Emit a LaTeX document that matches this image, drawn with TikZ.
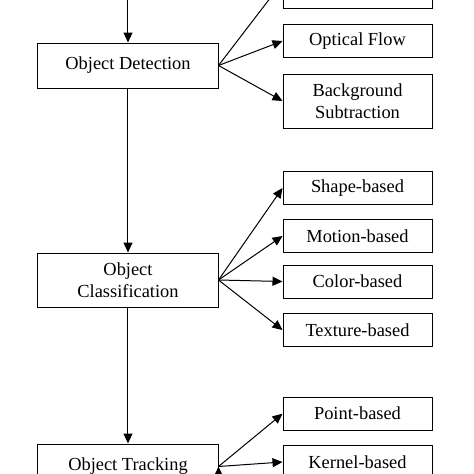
\documentclass[tikz,border=0pt]{standalone}
\usepackage{fontspec}
\setmainfont{Liberation Serif}
\usetikzlibrary{arrows.meta,positioning}
\tikzset{>/.tip={Triangle[length=10pt,width=9pt]}}
\tikzset{mainbox/.style={draw,minimum width=180pt,minimum height=45pt,align=center}}
\tikzset{subbox/.style={draw,minimum width=149pt,minimum height=33pt,align=center}}

\begin{document}
\begin{tikzpicture}[font=\fontsize{18.4}{21.7}\selectfont,on grid,line width=1pt]
  \useasboundingbox (-128pt,65.5pt) rectangle (346pt,-408.5pt);
  % main stages
  \node(det)[mainbox]{Object Detection};
  \node(cls)[mainbox,minimum height=54pt,below=214.5pt of det]{Object\\Classification};
  \node(trk)[mainbox,below=186.5pt of cls]{Object Tracking};
  \coordinate[above=90pt of det](in);
  % detection methods
  \node(flow)[subbox,above right=24.5pt and 229.5pt of det]{Optical Flow};
  \node(frame)[subbox,minimum height=54pt,above=59pt of flow]{Frame\\Differencing};
  \node(bgs)[subbox,minimum height=54pt,below=60pt of flow]{Background\\Subtraction};
  % classification methods
  \node(shape)[subbox,above right=92pt and 229.5pt of cls]{Shape-based};
  \node(motion)[subbox,below=48pt of shape]{Motion-based};
  \node(color)[subbox,below=45.5pt of motion]{Color-based};
  \node(texture)[subbox,below=48.5pt of color]{Texture-based};
  % tracking methods
  \node(point)[subbox,above right=52.8pt and 229.5pt of trk]{Point-based};
  \node(kernel)[subbox,below=48.3pt of point]{Kernel-based};
  \draw[->]
  (in) edge (det)
  (det) edge (cls)
  (cls) edge (trk)
  (det.east) edge (frame.west)
  (det.east) edge (flow.west)
  (det.east) edge (bgs.west)
  (cls.east) edge (shape.west)
  (cls.east) edge (motion.west)
  (cls.east) edge (color.west)
  (cls.east) edge (texture.west)
  (trk.east) edge (point.west)
  (trk.east) edge (kernel.west);
\end{tikzpicture}
\end{document}
